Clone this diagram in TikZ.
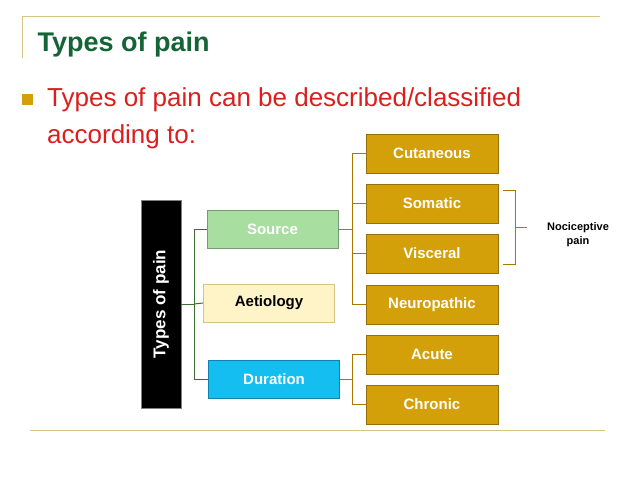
\documentclass[tikz,border=0pt]{standalone}
\usepackage{fontspec}
\setmainfont{Liberation Sans}
\usetikzlibrary{calc}
\definecolor{tan}{RGB}{214,196,130}
\definecolor{ttl}{RGB}{20,100,55}
\definecolor{redt}{RGB}{220,30,30}
\definecolor{gold}{RGB}{212,160,10}
\definecolor{goldd}{RGB}{170,120,0}
\definecolor{lgreen}{RGB}{168,222,160}
\definecolor{cream}{RGB}{255,244,200}
\definecolor{cyanb}{RGB}{20,190,240}
\definecolor{lnk}{RGB}{60,110,50}
\begin{document}
\begin{tikzpicture}[x=1pt,y=-1pt,
  box/.style={draw=#1!70!black,line width=0.6pt,minimum width=131pt,minimum height=38pt,inner sep=0pt,font=\bfseries\fontsize{15}{17}\selectfont},
  gbox/.style={box=gold,fill=gold,text=white,minimum width=132pt,minimum height=39pt},
  glink/.style={draw=goldd,line width=0.8pt},
  klink/.style={draw=lnk,line width=1pt}]
\useasboundingbox (0,0) rectangle (638,479);
\fill[white] (0,0) rectangle (638,479);
\draw[tan,line width=1pt] (22,16) -- (600,16);
\draw[tan,line width=1pt] (22,16) -- (22,58);
\draw[tan,line width=0.8pt] (30,430) -- (605,430);
\node[anchor=west,text=ttl,font=\bfseries\fontsize{27}{30}\selectfont] (title) at (34,45) {Types of pain};
\fill[gold] (22,94) rectangle (33,105);
\node[anchor=west,text=redt,font=\fontsize{26}{30}\selectfont,inner sep=0pt] (l1) at (47,100) {Types of pain can be described/classified};
\node[anchor=west,text=redt,font=\fontsize{26}{30}\selectfont,inner sep=0pt] (l2) at (47,137) {according to:};
\node[fill=black,draw=gray,minimum width=208pt,minimum height=40pt,inner sep=0pt,rotate=90,text=white,font=\bfseries\fontsize{17}{20}\selectfont] (root) at (161,304) {Types of pain};
\node[box=lgreen,fill=lgreen,text=white] (src) at (272.5,229) {Source};
\node[box=cream,fill=cream,draw=tan] (aet) at (269,303) {Aetiology};
\node[box=cyanb,fill=cyanb,text=white] (dur) at (274,379) {Duration};
\foreach \n/\t/\y in {cut/Cutaneous/153.5,som/Somatic/203.5,vis/Visceral/253.5,neu/Neuropathic/304.5,acu/Acute/354.5,chr/Chronic/404.5}
  \node[gbox] (\n) at (432,\y) {\t};
\coordinate (kj) at (194,304);
\draw[klink] (root.south) -- (kj);
\draw[klink] (kj) |- (src.west);
\draw[klink] (kj) -- (aet.west);
\draw[klink] (kj) |- (dur.west);
\foreach \n in {cut,som,vis,neu} \draw[glink] (src.east) -- (352,229) |- (\n.west);
\foreach \n in {acu,chr} \draw[glink] (dur.east) -- (352,379) |- (\n.west);
\draw[goldd,line width=0.6pt] (503,190) -- (515,190) -- (515,264) -- (503,264);
\coordinate (bm) at (515,227);
\node[align=center,font=\bfseries\fontsize{11}{14}\selectfont] (noc) at (578,235) {Nociceptive\\pain};
\draw[goldd,line width=0.6pt] (bm) -- (527,227);
\end{tikzpicture}
\end{document}
